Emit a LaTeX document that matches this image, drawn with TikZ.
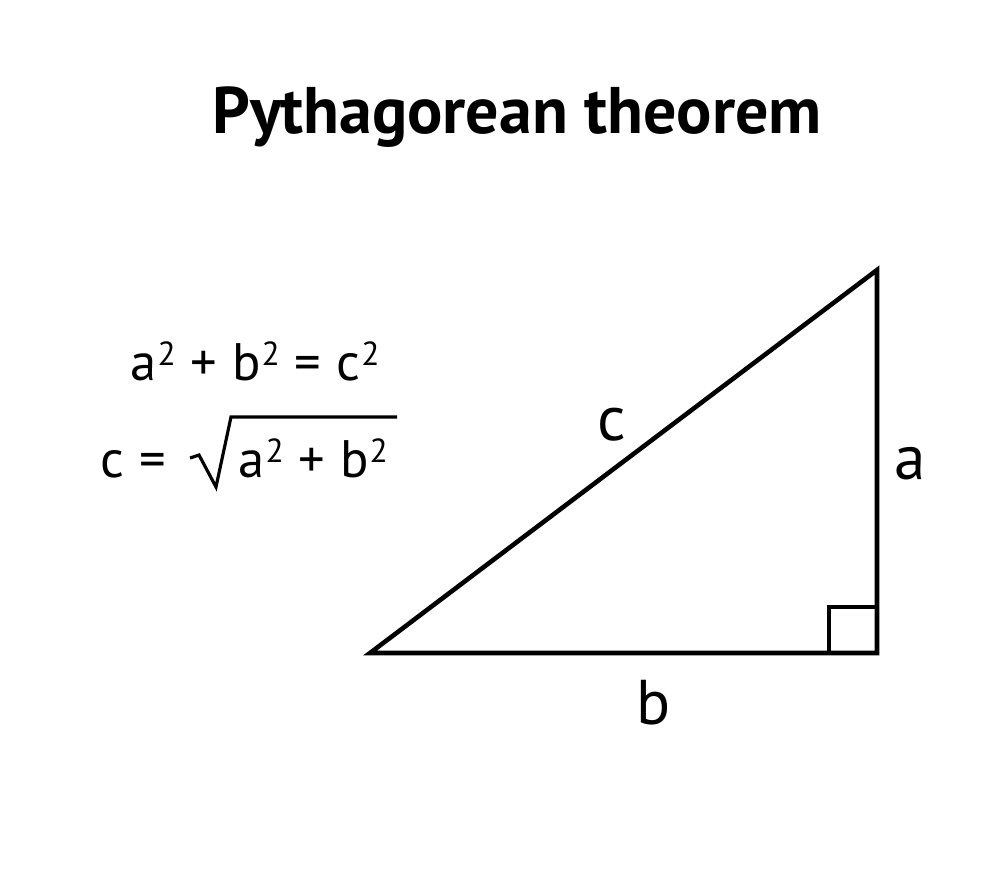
\documentclass[tikz,border=0pt]{standalone}
\usepackage{fontspec}
\setmainfont{PT Sans}
\newcommand{\sqd}{\kern0.02em\raisebox{8.5pt}{\fontsize{19}{21}\selectfont 2}}
\newcommand{\gp}{\hspace{8.5pt}}
\begin{document}
\begin{tikzpicture}[x=0.02cm,y=-0.02cm,
  edge/.style={line width=2.6pt,line join=miter},
  lbl/.style={font=\fontsize{36}{42}\selectfont,inner sep=0pt},
  frm/.style={font=\fontsize{30}{36}\selectfont,inner sep=0pt,anchor=base west}]
\useasboundingbox (0,0) rectangle (1000,875);
\node[font=\bfseries\fontsize{37.5}{44}\selectfont,inner sep=0pt,anchor=base] (title) at (517,133) {Pythagorean theorem};
\coordinate (A) at (370,653);
\coordinate (B) at (877,653);
\coordinate (C) at (877,270);
\draw[edge] (A) -- (B) -- (C) -- cycle;
\draw[edge] (829,653) |- (877,607);
\node[lbl] (lc) at (612,425) {c};
\node[lbl] (la) at (910,464) {a};
\node[lbl] (lb) at (654,703) {b};
\node[frm] (f1) at (130,380) {a\sqd\gp+\gp b\sqd\gp=\gp c\sqd};
\node[frm] (f2a) at (100,477) {c\gp=};
\node[frm] (f2b) at (238,477) {a\sqd\gp+\gp b\sqd};
\draw[line width=1.8pt,line join=miter] (190,458) -- (199,455) -- (216,487) -- (231,417) -- (397,417);
\end{tikzpicture}
\end{document}
